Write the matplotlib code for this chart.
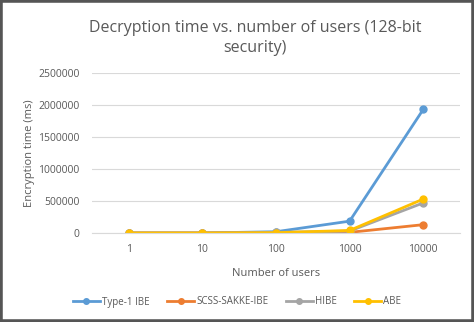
import matplotlib
matplotlib.use('Agg')
import matplotlib.pyplot as plt
from matplotlib.patches import Rectangle
from matplotlib.ticker import FuncFormatter

users = ['1', '10', '100', '1000', '10000']
type1_ibe = [0, 0, 20000, 185000, 1930000]
scss_sakke_ibe = [0, 0, 5000, 10000, 130000]
hibe = [0, 0, 10000, 30000, 470000]
abe = [0, 0, 5000, 40000, 530000]

plt.rcParams['font.family'] = ['Open Sans', 'DejaVu Sans']

fig = plt.figure(figsize=(4.74, 3.22), dpi=100)
ax = fig.add_axes([92 / 474, 1 - 233 / 322, 368 / 474, 160 / 322])

x = range(len(users))
series = [
    ('Type-1 IBE', type1_ibe, '#5B9BD5'),
    ('SCSS-SAKKE-IBE', scss_sakke_ibe, '#ED7D31'),
    ('HIBE', hibe, '#A5A5A5'),
    ('ABE', abe, '#FFC000'),
]
for name, vals, color in series:
    ax.plot(x, vals, color=color, marker='o', markersize=5, linewidth=2, label=name)

ax.set_xlim(-0.5, len(users) - 0.5)
ax.set_ylim(0, 2500000)
ax.set_yticks(range(0, 2500001, 500000))
ax.yaxis.set_major_formatter(FuncFormatter(lambda v, pos: '%d' % v))
ax.set_xticks(list(x))
ax.set_xticklabels(users)
ax.grid(axis='y', color='#D9D9D9', linewidth=0.8)
ax.set_axisbelow(True)
for s in ['top', 'right', 'left']:
    ax.spines[s].set_visible(False)
ax.spines['bottom'].set_color('#D9D9D9')
ax.tick_params(axis='y', length=0, labelsize=7.5, colors='#595959', pad=9)
ax.tick_params(axis='x', length=0, labelsize=7.5, colors='#595959', pad=8)

ax.set_xlabel('Number of users', fontsize=8, color='#595959', labelpad=9)
ax.set_ylabel('Encryption time (ms)', fontsize=8, color='#595959', labelpad=2)

fig.text(255 / 474, 1 - 20 / 322, 'Decryption time vs. number of users (128-bit\nsecurity)',
         ha='center', va='top', fontsize=11.5, color='#595959', linespacing=1.35)

fig.legend(loc='center', bbox_to_anchor=(0.5, 1 - 302 / 322), ncol=4, frameon=False,
           fontsize=7, labelcolor='#595959', handlelength=2.8, columnspacing=1.8,
           handletextpad=0.2, markerscale=0.8)

fig.patches.append(Rectangle((0, 0), 1, 1, transform=fig.transFigure, fill=False,
                             edgecolor='#555555', linewidth=4))

fig.savefig('out.png', dpi=100)
